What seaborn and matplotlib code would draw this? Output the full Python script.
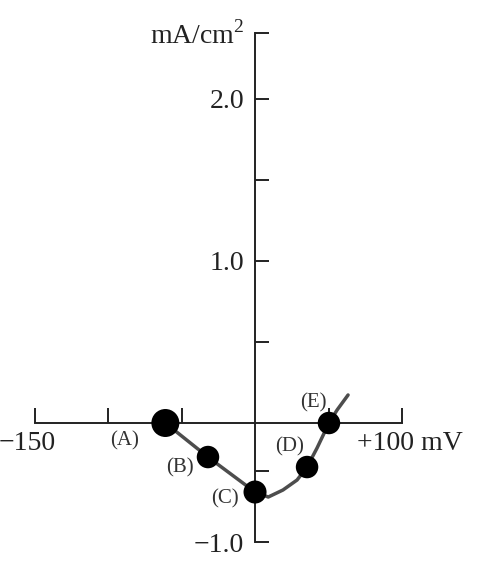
import numpy as np
import matplotlib
matplotlib.use("Agg")
import matplotlib.pyplot as plt
import matplotlib.transforms as mtransforms
import seaborn as sns

# current-voltage curve (mV, mA/cm2)
curve_mv = [-61, -32, 0, 9, 19, 28.6, 35.4, 42.2, 50.3, 55.8, 63.3]
curve_ma = [0.0, -0.286, -0.58, -0.622, -0.563, -0.479, -0.37, -0.21, 0.0, 0.08, 0.173]

# marked points A-E
point_names = ["(A)", "(B)", "(C)", "(D)", "(E)"]
point_mv = [-61, -32, 0, 35.4, 50.3]
point_ma = [0.0, -0.286, -0.58, -0.37, 0.0]

# axis ticks
x_ticks = [-150, -100, -50, 50, 100]
x_ticklabels = ["\u2212150", "", "", "", "+100 mV"]
y_ticks = [-1.0, 1.0, 2.0, 2.41]
y_ticklabels = ["\u22121.0", "1.0", "2.0", "mA/cm$^2$"]
y_minor = [-0.4, 0.5, 1.5]

sns.set_theme(style="white")
plt.rcParams["font.family"] = ["Liberation Serif", "DejaVu Serif"]
plt.rcParams["mathtext.fontset"] = "custom"
plt.rcParams["mathtext.rm"] = "Liberation Serif"

# the figure below zero is drawn at a tighter scale than above zero
k = 119 / 162


def fwd(y):
    y = np.asarray(y, dtype=float)
    return np.where(y < 0, y * k, y)


def inv(y):
    y = np.asarray(y, dtype=float)
    return np.where(y < 0, y / k, y)


fig = plt.figure(figsize=(4.98, 5.67), dpi=100)
ax = fig.add_axes([0, 0, 1, 1])
ax.set_yscale("function", functions=(fwd, inv))
ax.set_xlim(-173.5, 165.3)
ax.set_ylim(-1.21, 2.611)

axis_col = "#222222"
for side in ["top", "right"]:
    ax.spines[side].set_visible(False)
ax.spines["left"].set_position(("data", 0))
ax.spines["bottom"].set_position(("data", 0))
ax.spines["left"].set_bounds(-1.0, 2.41)
ax.spines["bottom"].set_bounds(-150, 100)
for side in ["left", "bottom"]:
    ax.spines[side].set_color(axis_col)
    ax.spines[side].set_linewidth(1.4)

ax.set_xticks(x_ticks)
ax.set_xticklabels(x_ticklabels)
ax.set_yticks(y_ticks)
ax.set_yticklabels(y_ticklabels)
ax.set_yticks(y_minor, minor=True)
ax.tick_params(axis="x", bottom=True, direction="in", length=10.8, width=1.4, color=axis_col,
               labelsize=20, labelcolor=axis_col, pad=6)
ax.tick_params(axis="y", which="both", left=True, direction="in", length=10, width=1.4,
               color=axis_col, labelsize=20, labelcolor=axis_col, pad=8)
ax.set_facecolor("white")
ax.grid(False)

# nudge the end labels a little, as in the original figure
shifts = {"\u2212150": -5 / 72, "+100 mV": 6 / 72}
for lbl in ax.get_xticklabels():
    if lbl.get_text() in shifts:
        dx = shifts[lbl.get_text()]
        lbl.set_transform(lbl.get_transform() + mtransforms.ScaledTranslation(dx, 0, fig.dpi_scale_trans))

sns.lineplot(x=curve_mv, y=curve_ma, sort=False, color="#4d4d4d", linewidth=2.5, ax=ax)

dot_sizes = [406, 262, 275, 262, 262]
sns.scatterplot(x=point_mv, y=point_ma, s=dot_sizes, color="black", edgecolor=None,
                linewidth=0, zorder=5, legend=False, ax=ax)

# label offsets in pixels from each dot
label_offsets = [(-41, -18), (-28, -11), (-30, -7), (-17, 20), (-16, 20)]
for name, x, y, off in zip(point_names, point_mv, point_ma, label_offsets):
    ax.annotate(name, (x, y), xytext=off, textcoords="offset pixels",
                ha="center", va="center", fontsize=15, color="#333333")

plt.savefig("out.png", dpi=100)
